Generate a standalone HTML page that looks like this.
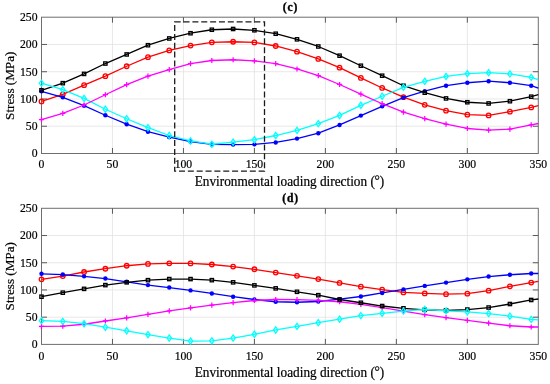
<!DOCTYPE html>
<html><head><meta charset="utf-8"><title>Stress vs environmental loading direction</title>
<style>
html,body{margin:0;padding:0;background:#fff;}
body{width:550px;height:384px;overflow:hidden;}
svg{display:block;font-family:"Liberation Serif",serif;}
.g{stroke:#e2e2e2;stroke-width:0.8;}
.bx{fill:none;stroke:#6e6e6e;stroke-width:1;}
.t{stroke:#5a5a5a;stroke-width:1;}
.tl{font-size:12.3px;fill:#000;stroke:#000;stroke-width:0.2px;}
.al{font-size:13.7px;fill:#000;stroke:#000;stroke-width:0.2px;}
.ti{font-size:11.6px;font-weight:bold;fill:#000;stroke:#000;stroke-width:0.35px;letter-spacing:0.9px;}
</style></head><body>
<svg width="550" height="384" viewBox="0 0 550 384">
<rect width="550" height="384" fill="#fff"/>
<line x1="41.5" x2="538.3" y1="126.24" y2="126.24" class="g"/>
<line x1="41.5" x2="538.3" y1="98.98" y2="98.98" class="g"/>
<line x1="41.5" x2="538.3" y1="71.72" y2="71.72" class="g"/>
<line x1="41.5" x2="538.3" y1="44.46" y2="44.46" class="g"/>
<line x1="112.47" x2="112.47" y1="17.2" y2="153.5" class="g"/>
<line x1="183.44" x2="183.44" y1="17.2" y2="153.5" class="g"/>
<line x1="254.41" x2="254.41" y1="17.2" y2="153.5" class="g"/>
<line x1="325.39" x2="325.39" y1="17.2" y2="153.5" class="g"/>
<line x1="396.36" x2="396.36" y1="17.2" y2="153.5" class="g"/>
<line x1="467.33" x2="467.33" y1="17.2" y2="153.5" class="g"/>
<rect x="41.5" y="17.2" width="496.80" height="136.30" class="bx"/>
<line x1="41.5" x2="47.0" y1="126.24" y2="126.24" class="t"/>
<line x1="538.3" x2="532.8" y1="126.24" y2="126.24" class="t"/>
<line x1="41.5" x2="47.0" y1="98.98" y2="98.98" class="t"/>
<line x1="538.3" x2="532.8" y1="98.98" y2="98.98" class="t"/>
<line x1="41.5" x2="47.0" y1="71.72" y2="71.72" class="t"/>
<line x1="538.3" x2="532.8" y1="71.72" y2="71.72" class="t"/>
<line x1="41.5" x2="47.0" y1="44.46" y2="44.46" class="t"/>
<line x1="538.3" x2="532.8" y1="44.46" y2="44.46" class="t"/>
<line x1="112.47" x2="112.47" y1="17.2" y2="22.7" class="t"/>
<line x1="112.47" x2="112.47" y1="153.5" y2="148.0" class="t"/>
<line x1="183.44" x2="183.44" y1="17.2" y2="22.7" class="t"/>
<line x1="183.44" x2="183.44" y1="153.5" y2="148.0" class="t"/>
<line x1="254.41" x2="254.41" y1="17.2" y2="22.7" class="t"/>
<line x1="254.41" x2="254.41" y1="153.5" y2="148.0" class="t"/>
<line x1="325.39" x2="325.39" y1="17.2" y2="22.7" class="t"/>
<line x1="325.39" x2="325.39" y1="153.5" y2="148.0" class="t"/>
<line x1="396.36" x2="396.36" y1="17.2" y2="22.7" class="t"/>
<line x1="396.36" x2="396.36" y1="153.5" y2="148.0" class="t"/>
<line x1="467.33" x2="467.33" y1="17.2" y2="22.7" class="t"/>
<line x1="467.33" x2="467.33" y1="153.5" y2="148.0" class="t"/>
<text transform="translate(37.5 157) scale(0.9512 1)" class="tl" text-anchor="end">0</text>
<text transform="translate(37.5 130) scale(0.9512 1)" class="tl" text-anchor="end">50</text>
<text transform="translate(37.5 103) scale(0.9512 1)" class="tl" text-anchor="end">100</text>
<text transform="translate(37.5 76) scale(0.9512 1)" class="tl" text-anchor="end">150</text>
<text transform="translate(37.5 48) scale(0.9512 1)" class="tl" text-anchor="end">200</text>
<text transform="translate(37.5 21) scale(0.9512 1)" class="tl" text-anchor="end">250</text>
<text transform="translate(41.50 168) scale(0.9512 1)" class="tl" text-anchor="middle">0</text>
<text transform="translate(112.47 168) scale(0.9512 1)" class="tl" text-anchor="middle">50</text>
<text transform="translate(183.44 168) scale(0.9512 1)" class="tl" text-anchor="middle">100</text>
<text transform="translate(254.41 168) scale(0.9512 1)" class="tl" text-anchor="middle">150</text>
<text transform="translate(325.39 168) scale(0.9512 1)" class="tl" text-anchor="middle">200</text>
<text transform="translate(396.36 168) scale(0.9512 1)" class="tl" text-anchor="middle">250</text>
<text transform="translate(467.33 168) scale(0.9512 1)" class="tl" text-anchor="middle">300</text>
<text transform="translate(538.30 168) scale(0.9512 1)" class="tl" text-anchor="middle">350</text>
<text transform="translate(289.4 186) scale(0.9693 1)" class="al" text-anchor="middle">Environmental loading direction (<tspan dx="-0.5" dy="-1.3">°</tspan><tspan dy="1.3">)</tspan></text>
<text transform="translate(13.7,85.75) rotate(-90)" class="al" style="font-size:13.15px" text-anchor="middle">Stress (MPa)</text>
<text x="290.6" y="11" class="ti" text-anchor="middle">(c)</text>
<polyline points="41.50,101.43 62.79,94.45 84.08,85.19 105.37,76.19 126.67,66.27 147.96,57.22 169.25,50.46 190.54,45.55 211.83,42.28 233.12,41.73 254.41,42.44 275.71,45.99 297.00,51.71 318.29,58.96 339.58,67.69 360.87,77.94 382.16,87.97 403.45,97.18 424.75,104.87 446.04,110.70 467.33,114.68 488.62,115.45 509.91,111.68 531.20,107.43 538.30,105.52" fill="none" stroke="#ff0000" stroke-width="1.3" stroke-linejoin="round"/>
<circle cx="41.50" cy="101.43" r="2.25" fill="none" stroke="#ff0000" stroke-width="1.3"/>
<circle cx="62.79" cy="94.45" r="2.25" fill="none" stroke="#ff0000" stroke-width="1.3"/>
<circle cx="84.08" cy="85.19" r="2.25" fill="none" stroke="#ff0000" stroke-width="1.3"/>
<circle cx="105.37" cy="76.19" r="2.25" fill="none" stroke="#ff0000" stroke-width="1.3"/>
<circle cx="126.67" cy="66.27" r="2.25" fill="none" stroke="#ff0000" stroke-width="1.3"/>
<circle cx="147.96" cy="57.22" r="2.25" fill="none" stroke="#ff0000" stroke-width="1.3"/>
<circle cx="169.25" cy="50.46" r="2.25" fill="none" stroke="#ff0000" stroke-width="1.3"/>
<circle cx="190.54" cy="45.55" r="2.25" fill="none" stroke="#ff0000" stroke-width="1.3"/>
<circle cx="211.83" cy="42.28" r="2.25" fill="none" stroke="#ff0000" stroke-width="1.3"/>
<circle cx="233.12" cy="41.73" r="2.25" fill="none" stroke="#ff0000" stroke-width="1.3"/>
<circle cx="254.41" cy="42.44" r="2.25" fill="none" stroke="#ff0000" stroke-width="1.3"/>
<circle cx="275.71" cy="45.99" r="2.25" fill="none" stroke="#ff0000" stroke-width="1.3"/>
<circle cx="297.00" cy="51.71" r="2.25" fill="none" stroke="#ff0000" stroke-width="1.3"/>
<circle cx="318.29" cy="58.96" r="2.25" fill="none" stroke="#ff0000" stroke-width="1.3"/>
<circle cx="339.58" cy="67.69" r="2.25" fill="none" stroke="#ff0000" stroke-width="1.3"/>
<circle cx="360.87" cy="77.94" r="2.25" fill="none" stroke="#ff0000" stroke-width="1.3"/>
<circle cx="382.16" cy="87.97" r="2.25" fill="none" stroke="#ff0000" stroke-width="1.3"/>
<circle cx="403.45" cy="97.18" r="2.25" fill="none" stroke="#ff0000" stroke-width="1.3"/>
<circle cx="424.75" cy="104.87" r="2.25" fill="none" stroke="#ff0000" stroke-width="1.3"/>
<circle cx="446.04" cy="110.70" r="2.25" fill="none" stroke="#ff0000" stroke-width="1.3"/>
<circle cx="467.33" cy="114.68" r="2.25" fill="none" stroke="#ff0000" stroke-width="1.3"/>
<circle cx="488.62" cy="115.45" r="2.25" fill="none" stroke="#ff0000" stroke-width="1.3"/>
<circle cx="509.91" cy="111.68" r="2.25" fill="none" stroke="#ff0000" stroke-width="1.3"/>
<circle cx="531.20" cy="107.43" r="2.25" fill="none" stroke="#ff0000" stroke-width="1.3"/>
<polyline points="41.50,91.35 62.79,97.34 84.08,105.69 105.37,115.23 126.67,124.22 147.96,131.69 169.25,137.14 190.54,141.51 211.83,144.45 233.12,144.56 254.41,144.34 275.71,142.43 297.00,138.62 318.29,133.22 339.58,124.93 360.87,115.61 382.16,106.34 403.45,97.62 424.75,91.13 446.04,85.73 467.33,82.73 488.62,81.21 509.91,82.73 531.20,85.73 538.30,88.08" fill="none" stroke="#0000ff" stroke-width="1.3" stroke-linejoin="round"/>
<circle cx="41.50" cy="91.35" r="2.2" fill="#0000ff"/>
<circle cx="62.79" cy="97.34" r="2.2" fill="#0000ff"/>
<circle cx="84.08" cy="105.69" r="2.2" fill="#0000ff"/>
<circle cx="105.37" cy="115.23" r="2.2" fill="#0000ff"/>
<circle cx="126.67" cy="124.22" r="2.2" fill="#0000ff"/>
<circle cx="147.96" cy="131.69" r="2.2" fill="#0000ff"/>
<circle cx="169.25" cy="137.14" r="2.2" fill="#0000ff"/>
<circle cx="190.54" cy="141.51" r="2.2" fill="#0000ff"/>
<circle cx="211.83" cy="144.45" r="2.2" fill="#0000ff"/>
<circle cx="233.12" cy="144.56" r="2.2" fill="#0000ff"/>
<circle cx="254.41" cy="144.34" r="2.2" fill="#0000ff"/>
<circle cx="275.71" cy="142.43" r="2.2" fill="#0000ff"/>
<circle cx="297.00" cy="138.62" r="2.2" fill="#0000ff"/>
<circle cx="318.29" cy="133.22" r="2.2" fill="#0000ff"/>
<circle cx="339.58" cy="124.93" r="2.2" fill="#0000ff"/>
<circle cx="360.87" cy="115.61" r="2.2" fill="#0000ff"/>
<circle cx="382.16" cy="106.34" r="2.2" fill="#0000ff"/>
<circle cx="403.45" cy="97.62" r="2.2" fill="#0000ff"/>
<circle cx="424.75" cy="91.13" r="2.2" fill="#0000ff"/>
<circle cx="446.04" cy="85.73" r="2.2" fill="#0000ff"/>
<circle cx="467.33" cy="82.73" r="2.2" fill="#0000ff"/>
<circle cx="488.62" cy="81.21" r="2.2" fill="#0000ff"/>
<circle cx="509.91" cy="82.73" r="2.2" fill="#0000ff"/>
<circle cx="531.20" cy="85.73" r="2.2" fill="#0000ff"/>
<polyline points="41.50,90.26 62.79,83.17 84.08,73.90 105.37,63.54 126.67,54.44 147.96,45.22 169.25,38.46 190.54,33.23 211.83,29.74 233.12,28.98 254.41,30.28 275.71,33.72 297.00,39.34 318.29,46.48 339.58,55.69 360.87,65.72 382.16,75.70 403.45,85.73 424.75,92.71 446.04,98.43 467.33,102.25 488.62,103.45 509.91,101.22 531.20,96.69 538.30,94.73" fill="none" stroke="#000" stroke-width="1.3" stroke-linejoin="round"/>
<rect x="39.85" y="88.61" width="3.3" height="3.3" fill="none" stroke="#000" stroke-width="1.3"/>
<rect x="61.14" y="81.52" width="3.3" height="3.3" fill="none" stroke="#000" stroke-width="1.3"/>
<rect x="82.43" y="72.25" width="3.3" height="3.3" fill="none" stroke="#000" stroke-width="1.3"/>
<rect x="103.72" y="61.89" width="3.3" height="3.3" fill="none" stroke="#000" stroke-width="1.3"/>
<rect x="125.02" y="52.79" width="3.3" height="3.3" fill="none" stroke="#000" stroke-width="1.3"/>
<rect x="146.31" y="43.57" width="3.3" height="3.3" fill="none" stroke="#000" stroke-width="1.3"/>
<rect x="167.60" y="36.81" width="3.3" height="3.3" fill="none" stroke="#000" stroke-width="1.3"/>
<rect x="188.89" y="31.58" width="3.3" height="3.3" fill="none" stroke="#000" stroke-width="1.3"/>
<rect x="210.18" y="28.09" width="3.3" height="3.3" fill="none" stroke="#000" stroke-width="1.3"/>
<rect x="231.47" y="27.33" width="3.3" height="3.3" fill="none" stroke="#000" stroke-width="1.3"/>
<rect x="252.76" y="28.63" width="3.3" height="3.3" fill="none" stroke="#000" stroke-width="1.3"/>
<rect x="274.06" y="32.07" width="3.3" height="3.3" fill="none" stroke="#000" stroke-width="1.3"/>
<rect x="295.35" y="37.69" width="3.3" height="3.3" fill="none" stroke="#000" stroke-width="1.3"/>
<rect x="316.64" y="44.83" width="3.3" height="3.3" fill="none" stroke="#000" stroke-width="1.3"/>
<rect x="337.93" y="54.04" width="3.3" height="3.3" fill="none" stroke="#000" stroke-width="1.3"/>
<rect x="359.22" y="64.07" width="3.3" height="3.3" fill="none" stroke="#000" stroke-width="1.3"/>
<rect x="380.51" y="74.05" width="3.3" height="3.3" fill="none" stroke="#000" stroke-width="1.3"/>
<rect x="401.80" y="84.08" width="3.3" height="3.3" fill="none" stroke="#000" stroke-width="1.3"/>
<rect x="423.10" y="91.06" width="3.3" height="3.3" fill="none" stroke="#000" stroke-width="1.3"/>
<rect x="444.39" y="96.78" width="3.3" height="3.3" fill="none" stroke="#000" stroke-width="1.3"/>
<rect x="465.68" y="100.60" width="3.3" height="3.3" fill="none" stroke="#000" stroke-width="1.3"/>
<rect x="486.97" y="101.80" width="3.3" height="3.3" fill="none" stroke="#000" stroke-width="1.3"/>
<rect x="508.26" y="99.57" width="3.3" height="3.3" fill="none" stroke="#000" stroke-width="1.3"/>
<rect x="529.55" y="95.04" width="3.3" height="3.3" fill="none" stroke="#000" stroke-width="1.3"/>
<polyline points="41.50,83.17 62.79,89.71 84.08,98.43 105.37,109.23 126.67,118.72 147.96,127.71 169.25,135.51 190.54,140.96 211.83,144.23 233.12,142.16 254.41,139.71 275.71,135.51 297.00,130.44 318.29,123.68 339.58,115.45 360.87,105.30 382.16,96.25 403.45,87.37 424.75,81.32 446.04,76.41 467.33,73.63 488.62,72.65 509.91,73.90 531.20,77.34 538.30,79.57" fill="none" stroke="#00ffff" stroke-width="1.3" stroke-linejoin="round"/>
<path d="M41.50 80.07L43.70 83.17L41.50 86.27L39.30 83.17Z" stroke="#00ffff" stroke-width="1.25" fill="none"/>
<path d="M62.79 86.61L64.99 89.71L62.79 92.81L60.59 89.71Z" stroke="#00ffff" stroke-width="1.25" fill="none"/>
<path d="M84.08 95.33L86.28 98.43L84.08 101.53L81.88 98.43Z" stroke="#00ffff" stroke-width="1.25" fill="none"/>
<path d="M105.37 106.13L107.57 109.23L105.37 112.33L103.17 109.23Z" stroke="#00ffff" stroke-width="1.25" fill="none"/>
<path d="M126.67 115.62L128.87 118.72L126.67 121.82L124.47 118.72Z" stroke="#00ffff" stroke-width="1.25" fill="none"/>
<path d="M147.96 124.61L150.16 127.71L147.96 130.81L145.76 127.71Z" stroke="#00ffff" stroke-width="1.25" fill="none"/>
<path d="M169.25 132.41L171.45 135.51L169.25 138.61L167.05 135.51Z" stroke="#00ffff" stroke-width="1.25" fill="none"/>
<path d="M190.54 137.86L192.74 140.96L190.54 144.06L188.34 140.96Z" stroke="#00ffff" stroke-width="1.25" fill="none"/>
<path d="M211.83 141.13L214.03 144.23L211.83 147.33L209.63 144.23Z" stroke="#00ffff" stroke-width="1.25" fill="none"/>
<path d="M233.12 139.06L235.32 142.16L233.12 145.26L230.92 142.16Z" stroke="#00ffff" stroke-width="1.25" fill="none"/>
<path d="M254.41 136.61L256.61 139.71L254.41 142.81L252.21 139.71Z" stroke="#00ffff" stroke-width="1.25" fill="none"/>
<path d="M275.71 132.41L277.91 135.51L275.71 138.61L273.51 135.51Z" stroke="#00ffff" stroke-width="1.25" fill="none"/>
<path d="M297.00 127.34L299.20 130.44L297.00 133.54L294.80 130.44Z" stroke="#00ffff" stroke-width="1.25" fill="none"/>
<path d="M318.29 120.58L320.49 123.68L318.29 126.78L316.09 123.68Z" stroke="#00ffff" stroke-width="1.25" fill="none"/>
<path d="M339.58 112.35L341.78 115.45L339.58 118.55L337.38 115.45Z" stroke="#00ffff" stroke-width="1.25" fill="none"/>
<path d="M360.87 102.20L363.07 105.30L360.87 108.40L358.67 105.30Z" stroke="#00ffff" stroke-width="1.25" fill="none"/>
<path d="M382.16 93.15L384.36 96.25L382.16 99.35L379.96 96.25Z" stroke="#00ffff" stroke-width="1.25" fill="none"/>
<path d="M403.45 84.27L405.65 87.37L403.45 90.47L401.25 87.37Z" stroke="#00ffff" stroke-width="1.25" fill="none"/>
<path d="M424.75 78.22L426.95 81.32L424.75 84.42L422.55 81.32Z" stroke="#00ffff" stroke-width="1.25" fill="none"/>
<path d="M446.04 73.31L448.24 76.41L446.04 79.51L443.84 76.41Z" stroke="#00ffff" stroke-width="1.25" fill="none"/>
<path d="M467.33 70.53L469.53 73.63L467.33 76.73L465.13 73.63Z" stroke="#00ffff" stroke-width="1.25" fill="none"/>
<path d="M488.62 69.55L490.82 72.65L488.62 75.75L486.42 72.65Z" stroke="#00ffff" stroke-width="1.25" fill="none"/>
<path d="M509.91 70.80L512.11 73.90L509.91 77.00L507.71 73.90Z" stroke="#00ffff" stroke-width="1.25" fill="none"/>
<path d="M531.20 74.24L533.40 77.34L531.20 80.44L529.00 77.34Z" stroke="#00ffff" stroke-width="1.25" fill="none"/>
<polyline points="41.50,119.70 62.79,113.43 84.08,104.98 105.37,94.73 126.67,84.70 147.96,76.19 169.25,69.54 190.54,63.54 211.83,60.49 233.12,59.73 254.41,60.82 275.71,63.54 297.00,68.99 318.29,75.70 339.58,84.48 360.87,94.18 382.16,103.72 403.45,112.06 424.75,118.72 446.04,124.22 467.33,128.48 488.62,130.22 509.91,129.18 531.20,124.93 538.30,123.51" fill="none" stroke="#ff00ff" stroke-width="1.3" stroke-linejoin="round"/>
<path d="M38.90 119.70H44.10M41.50 117.10V122.30" stroke="#ff00ff" stroke-width="1.25" fill="none"/>
<path d="M60.19 113.43H65.39M62.79 110.83V116.03" stroke="#ff00ff" stroke-width="1.25" fill="none"/>
<path d="M81.48 104.98H86.68M84.08 102.38V107.58" stroke="#ff00ff" stroke-width="1.25" fill="none"/>
<path d="M102.77 94.73H107.97M105.37 92.13V97.33" stroke="#ff00ff" stroke-width="1.25" fill="none"/>
<path d="M124.07 84.70H129.27M126.67 82.10V87.30" stroke="#ff00ff" stroke-width="1.25" fill="none"/>
<path d="M145.36 76.19H150.56M147.96 73.59V78.79" stroke="#ff00ff" stroke-width="1.25" fill="none"/>
<path d="M166.65 69.54H171.85M169.25 66.94V72.14" stroke="#ff00ff" stroke-width="1.25" fill="none"/>
<path d="M187.94 63.54H193.14M190.54 60.94V66.14" stroke="#ff00ff" stroke-width="1.25" fill="none"/>
<path d="M209.23 60.49H214.43M211.83 57.89V63.09" stroke="#ff00ff" stroke-width="1.25" fill="none"/>
<path d="M230.52 59.73H235.72M233.12 57.13V62.33" stroke="#ff00ff" stroke-width="1.25" fill="none"/>
<path d="M251.81 60.82H257.01M254.41 58.22V63.42" stroke="#ff00ff" stroke-width="1.25" fill="none"/>
<path d="M273.11 63.54H278.31M275.71 60.94V66.14" stroke="#ff00ff" stroke-width="1.25" fill="none"/>
<path d="M294.40 68.99H299.60M297.00 66.39V71.59" stroke="#ff00ff" stroke-width="1.25" fill="none"/>
<path d="M315.69 75.70H320.89M318.29 73.10V78.30" stroke="#ff00ff" stroke-width="1.25" fill="none"/>
<path d="M336.98 84.48H342.18M339.58 81.88V87.08" stroke="#ff00ff" stroke-width="1.25" fill="none"/>
<path d="M358.27 94.18H363.47M360.87 91.58V96.78" stroke="#ff00ff" stroke-width="1.25" fill="none"/>
<path d="M379.56 103.72H384.76M382.16 101.12V106.32" stroke="#ff00ff" stroke-width="1.25" fill="none"/>
<path d="M400.85 112.06H406.05M403.45 109.46V114.66" stroke="#ff00ff" stroke-width="1.25" fill="none"/>
<path d="M422.15 118.72H427.35M424.75 116.12V121.32" stroke="#ff00ff" stroke-width="1.25" fill="none"/>
<path d="M443.44 124.22H448.64M446.04 121.62V126.82" stroke="#ff00ff" stroke-width="1.25" fill="none"/>
<path d="M464.73 128.48H469.93M467.33 125.88V131.08" stroke="#ff00ff" stroke-width="1.25" fill="none"/>
<path d="M486.02 130.22H491.22M488.62 127.62V132.82" stroke="#ff00ff" stroke-width="1.25" fill="none"/>
<path d="M507.31 129.18H512.51M509.91 126.58V131.78" stroke="#ff00ff" stroke-width="1.25" fill="none"/>
<path d="M528.60 124.93H533.80M531.20 122.33V127.53" stroke="#ff00ff" stroke-width="1.25" fill="none"/>
<rect x="174.7" y="21.9" width="89.8" height="149.3" fill="none" stroke="#1a1a1a" stroke-width="1.3" stroke-dasharray="6 2.85"/>
<line x1="41.5" x2="538.3" y1="317.18" y2="317.18" class="g"/>
<line x1="41.5" x2="538.3" y1="289.96" y2="289.96" class="g"/>
<line x1="41.5" x2="538.3" y1="262.74" y2="262.74" class="g"/>
<line x1="41.5" x2="538.3" y1="235.52" y2="235.52" class="g"/>
<line x1="112.47" x2="112.47" y1="208.3" y2="344.4" class="g"/>
<line x1="183.44" x2="183.44" y1="208.3" y2="344.4" class="g"/>
<line x1="254.41" x2="254.41" y1="208.3" y2="344.4" class="g"/>
<line x1="325.39" x2="325.39" y1="208.3" y2="344.4" class="g"/>
<line x1="396.36" x2="396.36" y1="208.3" y2="344.4" class="g"/>
<line x1="467.33" x2="467.33" y1="208.3" y2="344.4" class="g"/>
<rect x="41.5" y="208.3" width="496.80" height="136.10" class="bx"/>
<line x1="41.5" x2="47.0" y1="317.18" y2="317.18" class="t"/>
<line x1="538.3" x2="532.8" y1="317.18" y2="317.18" class="t"/>
<line x1="41.5" x2="47.0" y1="289.96" y2="289.96" class="t"/>
<line x1="538.3" x2="532.8" y1="289.96" y2="289.96" class="t"/>
<line x1="41.5" x2="47.0" y1="262.74" y2="262.74" class="t"/>
<line x1="538.3" x2="532.8" y1="262.74" y2="262.74" class="t"/>
<line x1="41.5" x2="47.0" y1="235.52" y2="235.52" class="t"/>
<line x1="538.3" x2="532.8" y1="235.52" y2="235.52" class="t"/>
<line x1="112.47" x2="112.47" y1="208.3" y2="213.8" class="t"/>
<line x1="112.47" x2="112.47" y1="344.4" y2="338.9" class="t"/>
<line x1="183.44" x2="183.44" y1="208.3" y2="213.8" class="t"/>
<line x1="183.44" x2="183.44" y1="344.4" y2="338.9" class="t"/>
<line x1="254.41" x2="254.41" y1="208.3" y2="213.8" class="t"/>
<line x1="254.41" x2="254.41" y1="344.4" y2="338.9" class="t"/>
<line x1="325.39" x2="325.39" y1="208.3" y2="213.8" class="t"/>
<line x1="325.39" x2="325.39" y1="344.4" y2="338.9" class="t"/>
<line x1="396.36" x2="396.36" y1="208.3" y2="213.8" class="t"/>
<line x1="396.36" x2="396.36" y1="344.4" y2="338.9" class="t"/>
<line x1="467.33" x2="467.33" y1="208.3" y2="213.8" class="t"/>
<line x1="467.33" x2="467.33" y1="344.4" y2="338.9" class="t"/>
<text transform="translate(37.5 348) scale(0.9512 1)" class="tl" text-anchor="end">0</text>
<text transform="translate(37.5 321) scale(0.9512 1)" class="tl" text-anchor="end">50</text>
<text transform="translate(37.5 294) scale(0.9512 1)" class="tl" text-anchor="end">100</text>
<text transform="translate(37.5 267) scale(0.9512 1)" class="tl" text-anchor="end">150</text>
<text transform="translate(37.5 239) scale(0.9512 1)" class="tl" text-anchor="end">200</text>
<text transform="translate(37.5 212) scale(0.9512 1)" class="tl" text-anchor="end">250</text>
<text transform="translate(41.50 360) scale(0.9512 1)" class="tl" text-anchor="middle">0</text>
<text transform="translate(112.47 360) scale(0.9512 1)" class="tl" text-anchor="middle">50</text>
<text transform="translate(183.44 360) scale(0.9512 1)" class="tl" text-anchor="middle">100</text>
<text transform="translate(254.41 360) scale(0.9512 1)" class="tl" text-anchor="middle">150</text>
<text transform="translate(325.39 360) scale(0.9512 1)" class="tl" text-anchor="middle">200</text>
<text transform="translate(396.36 360) scale(0.9512 1)" class="tl" text-anchor="middle">250</text>
<text transform="translate(467.33 360) scale(0.9512 1)" class="tl" text-anchor="middle">300</text>
<text transform="translate(538.30 360) scale(0.9512 1)" class="tl" text-anchor="middle">350</text>
<text transform="translate(289.4 377) scale(0.9693 1)" class="al" text-anchor="middle">Environmental loading direction (<tspan dx="-0.5" dy="-1.3">°</tspan><tspan dy="1.3">)</tspan></text>
<text transform="translate(13.7,276.25) rotate(-90)" class="al" style="font-size:13.15px" text-anchor="middle">Stress (MPa)</text>
<text x="290.6" y="202" class="ti" text-anchor="middle">(d)</text>
<polyline points="41.50,279.34 62.79,276.08 84.08,271.99 105.37,268.73 126.67,265.73 147.96,263.94 169.25,263.28 190.54,263.45 211.83,264.48 233.12,266.55 254.41,269.27 275.71,272.54 297.00,275.81 318.29,279.07 339.58,282.88 360.87,286.69 382.16,289.69 403.45,292.41 424.75,293.44 446.04,294.21 467.33,293.72 488.62,290.67 509.91,286.37 531.20,282.61 538.30,281.36" fill="none" stroke="#ff0000" stroke-width="1.3" stroke-linejoin="round"/>
<circle cx="41.50" cy="279.34" r="2.25" fill="none" stroke="#ff0000" stroke-width="1.3"/>
<circle cx="62.79" cy="276.08" r="2.25" fill="none" stroke="#ff0000" stroke-width="1.3"/>
<circle cx="84.08" cy="271.99" r="2.25" fill="none" stroke="#ff0000" stroke-width="1.3"/>
<circle cx="105.37" cy="268.73" r="2.25" fill="none" stroke="#ff0000" stroke-width="1.3"/>
<circle cx="126.67" cy="265.73" r="2.25" fill="none" stroke="#ff0000" stroke-width="1.3"/>
<circle cx="147.96" cy="263.94" r="2.25" fill="none" stroke="#ff0000" stroke-width="1.3"/>
<circle cx="169.25" cy="263.28" r="2.25" fill="none" stroke="#ff0000" stroke-width="1.3"/>
<circle cx="190.54" cy="263.45" r="2.25" fill="none" stroke="#ff0000" stroke-width="1.3"/>
<circle cx="211.83" cy="264.48" r="2.25" fill="none" stroke="#ff0000" stroke-width="1.3"/>
<circle cx="233.12" cy="266.55" r="2.25" fill="none" stroke="#ff0000" stroke-width="1.3"/>
<circle cx="254.41" cy="269.27" r="2.25" fill="none" stroke="#ff0000" stroke-width="1.3"/>
<circle cx="275.71" cy="272.54" r="2.25" fill="none" stroke="#ff0000" stroke-width="1.3"/>
<circle cx="297.00" cy="275.81" r="2.25" fill="none" stroke="#ff0000" stroke-width="1.3"/>
<circle cx="318.29" cy="279.07" r="2.25" fill="none" stroke="#ff0000" stroke-width="1.3"/>
<circle cx="339.58" cy="282.88" r="2.25" fill="none" stroke="#ff0000" stroke-width="1.3"/>
<circle cx="360.87" cy="286.69" r="2.25" fill="none" stroke="#ff0000" stroke-width="1.3"/>
<circle cx="382.16" cy="289.69" r="2.25" fill="none" stroke="#ff0000" stroke-width="1.3"/>
<circle cx="403.45" cy="292.41" r="2.25" fill="none" stroke="#ff0000" stroke-width="1.3"/>
<circle cx="424.75" cy="293.44" r="2.25" fill="none" stroke="#ff0000" stroke-width="1.3"/>
<circle cx="446.04" cy="294.21" r="2.25" fill="none" stroke="#ff0000" stroke-width="1.3"/>
<circle cx="467.33" cy="293.72" r="2.25" fill="none" stroke="#ff0000" stroke-width="1.3"/>
<circle cx="488.62" cy="290.67" r="2.25" fill="none" stroke="#ff0000" stroke-width="1.3"/>
<circle cx="509.91" cy="286.37" r="2.25" fill="none" stroke="#ff0000" stroke-width="1.3"/>
<circle cx="531.20" cy="282.61" r="2.25" fill="none" stroke="#ff0000" stroke-width="1.3"/>
<polyline points="41.50,273.79 62.79,274.55 84.08,276.35 105.37,278.53 126.67,281.79 147.96,285.11 169.25,287.56 190.54,290.40 211.83,293.44 233.12,296.71 254.41,299.49 275.71,301.77 297.00,302.26 318.29,301.50 339.58,299.21 360.87,296.49 382.16,292.95 403.45,289.42 424.75,285.88 446.04,282.61 467.33,279.34 488.62,276.57 509.91,274.77 531.20,273.52 538.30,273.52" fill="none" stroke="#0000ff" stroke-width="1.3" stroke-linejoin="round"/>
<circle cx="41.50" cy="273.79" r="2.2" fill="#0000ff"/>
<circle cx="62.79" cy="274.55" r="2.2" fill="#0000ff"/>
<circle cx="84.08" cy="276.35" r="2.2" fill="#0000ff"/>
<circle cx="105.37" cy="278.53" r="2.2" fill="#0000ff"/>
<circle cx="126.67" cy="281.79" r="2.2" fill="#0000ff"/>
<circle cx="147.96" cy="285.11" r="2.2" fill="#0000ff"/>
<circle cx="169.25" cy="287.56" r="2.2" fill="#0000ff"/>
<circle cx="190.54" cy="290.40" r="2.2" fill="#0000ff"/>
<circle cx="211.83" cy="293.44" r="2.2" fill="#0000ff"/>
<circle cx="233.12" cy="296.71" r="2.2" fill="#0000ff"/>
<circle cx="254.41" cy="299.49" r="2.2" fill="#0000ff"/>
<circle cx="275.71" cy="301.77" r="2.2" fill="#0000ff"/>
<circle cx="297.00" cy="302.26" r="2.2" fill="#0000ff"/>
<circle cx="318.29" cy="301.50" r="2.2" fill="#0000ff"/>
<circle cx="339.58" cy="299.21" r="2.2" fill="#0000ff"/>
<circle cx="360.87" cy="296.49" r="2.2" fill="#0000ff"/>
<circle cx="382.16" cy="292.95" r="2.2" fill="#0000ff"/>
<circle cx="403.45" cy="289.42" r="2.2" fill="#0000ff"/>
<circle cx="424.75" cy="285.88" r="2.2" fill="#0000ff"/>
<circle cx="446.04" cy="282.61" r="2.2" fill="#0000ff"/>
<circle cx="467.33" cy="279.34" r="2.2" fill="#0000ff"/>
<circle cx="488.62" cy="276.57" r="2.2" fill="#0000ff"/>
<circle cx="509.91" cy="274.77" r="2.2" fill="#0000ff"/>
<circle cx="531.20" cy="273.52" r="2.2" fill="#0000ff"/>
<polyline points="41.50,326.43 62.79,326.22 84.08,324.26 105.37,320.99 126.67,317.89 147.96,314.35 169.25,310.81 190.54,307.82 211.83,305.04 233.12,302.54 254.41,300.52 275.71,299.49 297.00,299.60 318.29,300.30 339.58,301.77 360.87,304.28 382.16,307.54 403.45,311.08 424.75,314.62 446.04,317.62 467.33,320.45 488.62,323.17 509.91,325.73 531.20,326.98 538.30,326.98" fill="none" stroke="#ff00ff" stroke-width="1.3" stroke-linejoin="round"/>
<path d="M38.90 326.43H44.10M41.50 323.83V329.03" stroke="#ff00ff" stroke-width="1.25" fill="none"/>
<path d="M60.19 326.22H65.39M62.79 323.62V328.82" stroke="#ff00ff" stroke-width="1.25" fill="none"/>
<path d="M81.48 324.26H86.68M84.08 321.66V326.86" stroke="#ff00ff" stroke-width="1.25" fill="none"/>
<path d="M102.77 320.99H107.97M105.37 318.39V323.59" stroke="#ff00ff" stroke-width="1.25" fill="none"/>
<path d="M124.07 317.89H129.27M126.67 315.29V320.49" stroke="#ff00ff" stroke-width="1.25" fill="none"/>
<path d="M145.36 314.35H150.56M147.96 311.75V316.95" stroke="#ff00ff" stroke-width="1.25" fill="none"/>
<path d="M166.65 310.81H171.85M169.25 308.21V313.41" stroke="#ff00ff" stroke-width="1.25" fill="none"/>
<path d="M187.94 307.82H193.14M190.54 305.22V310.42" stroke="#ff00ff" stroke-width="1.25" fill="none"/>
<path d="M209.23 305.04H214.43M211.83 302.44V307.64" stroke="#ff00ff" stroke-width="1.25" fill="none"/>
<path d="M230.52 302.54H235.72M233.12 299.94V305.14" stroke="#ff00ff" stroke-width="1.25" fill="none"/>
<path d="M251.81 300.52H257.01M254.41 297.92V303.12" stroke="#ff00ff" stroke-width="1.25" fill="none"/>
<path d="M273.11 299.49H278.31M275.71 296.89V302.09" stroke="#ff00ff" stroke-width="1.25" fill="none"/>
<path d="M294.40 299.60H299.60M297.00 297.00V302.20" stroke="#ff00ff" stroke-width="1.25" fill="none"/>
<path d="M315.69 300.30H320.89M318.29 297.70V302.90" stroke="#ff00ff" stroke-width="1.25" fill="none"/>
<path d="M336.98 301.77H342.18M339.58 299.17V304.37" stroke="#ff00ff" stroke-width="1.25" fill="none"/>
<path d="M358.27 304.28H363.47M360.87 301.68V306.88" stroke="#ff00ff" stroke-width="1.25" fill="none"/>
<path d="M379.56 307.54H384.76M382.16 304.94V310.14" stroke="#ff00ff" stroke-width="1.25" fill="none"/>
<path d="M400.85 311.08H406.05M403.45 308.48V313.68" stroke="#ff00ff" stroke-width="1.25" fill="none"/>
<path d="M422.15 314.62H427.35M424.75 312.02V317.22" stroke="#ff00ff" stroke-width="1.25" fill="none"/>
<path d="M443.44 317.62H448.64M446.04 315.02V320.22" stroke="#ff00ff" stroke-width="1.25" fill="none"/>
<path d="M464.73 320.45H469.93M467.33 317.85V323.05" stroke="#ff00ff" stroke-width="1.25" fill="none"/>
<path d="M486.02 323.17H491.22M488.62 320.57V325.77" stroke="#ff00ff" stroke-width="1.25" fill="none"/>
<path d="M507.31 325.73H512.51M509.91 323.13V328.33" stroke="#ff00ff" stroke-width="1.25" fill="none"/>
<path d="M528.60 326.98H533.80M531.20 324.38V329.58" stroke="#ff00ff" stroke-width="1.25" fill="none"/>
<polyline points="41.50,296.71 62.79,292.68 84.08,288.87 105.37,285.11 126.67,282.34 147.96,280.16 169.25,279.07 190.54,279.07 211.83,280.16 233.12,282.34 254.41,285.39 275.71,288.38 297.00,291.81 318.29,295.19 339.58,299.49 360.87,302.75 382.16,306.02 403.45,308.31 424.75,309.83 446.04,310.32 467.33,309.56 488.62,307.54 509.91,304.01 531.20,299.98 538.30,299.00" fill="none" stroke="#000" stroke-width="1.3" stroke-linejoin="round"/>
<rect x="39.85" y="295.06" width="3.3" height="3.3" fill="none" stroke="#000" stroke-width="1.3"/>
<rect x="61.14" y="291.03" width="3.3" height="3.3" fill="none" stroke="#000" stroke-width="1.3"/>
<rect x="82.43" y="287.22" width="3.3" height="3.3" fill="none" stroke="#000" stroke-width="1.3"/>
<rect x="103.72" y="283.46" width="3.3" height="3.3" fill="none" stroke="#000" stroke-width="1.3"/>
<rect x="125.02" y="280.69" width="3.3" height="3.3" fill="none" stroke="#000" stroke-width="1.3"/>
<rect x="146.31" y="278.51" width="3.3" height="3.3" fill="none" stroke="#000" stroke-width="1.3"/>
<rect x="167.60" y="277.42" width="3.3" height="3.3" fill="none" stroke="#000" stroke-width="1.3"/>
<rect x="188.89" y="277.42" width="3.3" height="3.3" fill="none" stroke="#000" stroke-width="1.3"/>
<rect x="210.18" y="278.51" width="3.3" height="3.3" fill="none" stroke="#000" stroke-width="1.3"/>
<rect x="231.47" y="280.69" width="3.3" height="3.3" fill="none" stroke="#000" stroke-width="1.3"/>
<rect x="252.76" y="283.74" width="3.3" height="3.3" fill="none" stroke="#000" stroke-width="1.3"/>
<rect x="274.06" y="286.73" width="3.3" height="3.3" fill="none" stroke="#000" stroke-width="1.3"/>
<rect x="295.35" y="290.16" width="3.3" height="3.3" fill="none" stroke="#000" stroke-width="1.3"/>
<rect x="316.64" y="293.54" width="3.3" height="3.3" fill="none" stroke="#000" stroke-width="1.3"/>
<rect x="337.93" y="297.84" width="3.3" height="3.3" fill="none" stroke="#000" stroke-width="1.3"/>
<rect x="359.22" y="301.10" width="3.3" height="3.3" fill="none" stroke="#000" stroke-width="1.3"/>
<rect x="380.51" y="304.37" width="3.3" height="3.3" fill="none" stroke="#000" stroke-width="1.3"/>
<rect x="401.80" y="306.66" width="3.3" height="3.3" fill="none" stroke="#000" stroke-width="1.3"/>
<rect x="423.10" y="308.18" width="3.3" height="3.3" fill="none" stroke="#000" stroke-width="1.3"/>
<rect x="444.39" y="308.67" width="3.3" height="3.3" fill="none" stroke="#000" stroke-width="1.3"/>
<rect x="465.68" y="307.91" width="3.3" height="3.3" fill="none" stroke="#000" stroke-width="1.3"/>
<rect x="486.97" y="305.89" width="3.3" height="3.3" fill="none" stroke="#000" stroke-width="1.3"/>
<rect x="508.26" y="302.36" width="3.3" height="3.3" fill="none" stroke="#000" stroke-width="1.3"/>
<rect x="529.55" y="298.33" width="3.3" height="3.3" fill="none" stroke="#000" stroke-width="1.3"/>
<polyline points="41.50,320.66 62.79,321.43 84.08,323.71 105.37,327.20 126.67,330.79 147.96,334.60 169.25,338.08 190.54,341.08 211.83,340.81 233.12,338.08 254.41,334.27 275.71,329.97 297.00,326.43 318.29,322.68 339.58,319.14 360.87,315.60 382.16,313.37 403.45,311.08 424.75,309.45 446.04,310.81 467.33,311.84 488.62,313.59 509.91,316.15 531.20,319.41 538.30,319.90" fill="none" stroke="#00ffff" stroke-width="1.3" stroke-linejoin="round"/>
<path d="M41.50 317.56L43.70 320.66L41.50 323.76L39.30 320.66Z" stroke="#00ffff" stroke-width="1.25" fill="none"/>
<path d="M62.79 318.33L64.99 321.43L62.79 324.53L60.59 321.43Z" stroke="#00ffff" stroke-width="1.25" fill="none"/>
<path d="M84.08 320.61L86.28 323.71L84.08 326.81L81.88 323.71Z" stroke="#00ffff" stroke-width="1.25" fill="none"/>
<path d="M105.37 324.10L107.57 327.20L105.37 330.30L103.17 327.20Z" stroke="#00ffff" stroke-width="1.25" fill="none"/>
<path d="M126.67 327.69L128.87 330.79L126.67 333.89L124.47 330.79Z" stroke="#00ffff" stroke-width="1.25" fill="none"/>
<path d="M147.96 331.50L150.16 334.60L147.96 337.70L145.76 334.60Z" stroke="#00ffff" stroke-width="1.25" fill="none"/>
<path d="M169.25 334.98L171.45 338.08L169.25 341.18L167.05 338.08Z" stroke="#00ffff" stroke-width="1.25" fill="none"/>
<path d="M190.54 337.98L192.74 341.08L190.54 344.18L188.34 341.08Z" stroke="#00ffff" stroke-width="1.25" fill="none"/>
<path d="M211.83 337.71L214.03 340.81L211.83 343.91L209.63 340.81Z" stroke="#00ffff" stroke-width="1.25" fill="none"/>
<path d="M233.12 334.98L235.32 338.08L233.12 341.18L230.92 338.08Z" stroke="#00ffff" stroke-width="1.25" fill="none"/>
<path d="M254.41 331.17L256.61 334.27L254.41 337.37L252.21 334.27Z" stroke="#00ffff" stroke-width="1.25" fill="none"/>
<path d="M275.71 326.87L277.91 329.97L275.71 333.07L273.51 329.97Z" stroke="#00ffff" stroke-width="1.25" fill="none"/>
<path d="M297.00 323.33L299.20 326.43L297.00 329.53L294.80 326.43Z" stroke="#00ffff" stroke-width="1.25" fill="none"/>
<path d="M318.29 319.58L320.49 322.68L318.29 325.78L316.09 322.68Z" stroke="#00ffff" stroke-width="1.25" fill="none"/>
<path d="M339.58 316.04L341.78 319.14L339.58 322.24L337.38 319.14Z" stroke="#00ffff" stroke-width="1.25" fill="none"/>
<path d="M360.87 312.50L363.07 315.60L360.87 318.70L358.67 315.60Z" stroke="#00ffff" stroke-width="1.25" fill="none"/>
<path d="M382.16 310.27L384.36 313.37L382.16 316.47L379.96 313.37Z" stroke="#00ffff" stroke-width="1.25" fill="none"/>
<path d="M403.45 307.98L405.65 311.08L403.45 314.18L401.25 311.08Z" stroke="#00ffff" stroke-width="1.25" fill="none"/>
<path d="M424.75 306.35L426.95 309.45L424.75 312.55L422.55 309.45Z" stroke="#00ffff" stroke-width="1.25" fill="none"/>
<path d="M446.04 307.71L448.24 310.81L446.04 313.91L443.84 310.81Z" stroke="#00ffff" stroke-width="1.25" fill="none"/>
<path d="M467.33 308.74L469.53 311.84L467.33 314.94L465.13 311.84Z" stroke="#00ffff" stroke-width="1.25" fill="none"/>
<path d="M488.62 310.49L490.82 313.59L488.62 316.69L486.42 313.59Z" stroke="#00ffff" stroke-width="1.25" fill="none"/>
<path d="M509.91 313.05L512.11 316.15L509.91 319.25L507.71 316.15Z" stroke="#00ffff" stroke-width="1.25" fill="none"/>
<path d="M531.20 316.31L533.40 319.41L531.20 322.51L529.00 319.41Z" stroke="#00ffff" stroke-width="1.25" fill="none"/>
</svg>
</body></html>
